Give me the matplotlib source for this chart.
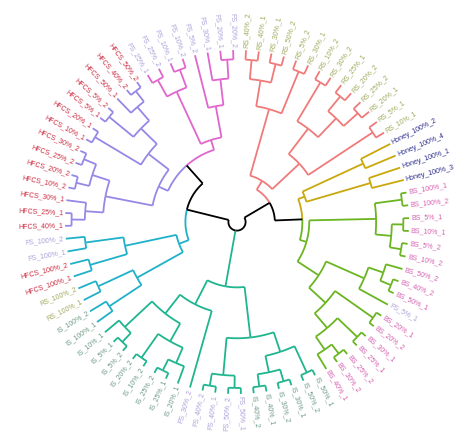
import numpy as np
import matplotlib
matplotlib.use("Agg")
import matplotlib.pyplot as plt

red_tree = [[[["RS_40%_2", "RS_40%_1"], ["RS_30%_1", "RS_50%_2"]], ["RS_5%_2", "RS_30%_1"]],
            [[["RS_10%_2", "RS_30%_2"], [["RS_25%_1", "RS_20%_2"], ["RS_25%_2", "RS_20%_1"]]], ["RS_5%_1", "RS_10%_1"]]]
gold_tree = [["Honey_100%_2", "Honey_100%_4"], ["Honey_100%_1", "Honey_100%_3"]]
green_tree = [[["BS_100%_1", "BS_100%_2"], [["BS_5%_1", "BS_10%_1"], ["BS_5%_2", "BS_10%_2"]]],
              [[["BS_50%_2", ["BS_40%_2", "BS_50%_1"]], "FS_5%_1"],
               [["BS_20%_1", "BS_20%_2"], [["BS_30%_1", "BS_25%_1"], [["BS_25%_2", "BS_30%_2"], "BS_40%_1"]]]]]
teal_tree = [[[["IS_50%_1", "IS_50%_2"], [["IS_30%_1", "IS_30%_2"], ["IS_40%_1", "IS_40%_2"]]],
              [["FS_50%_1", "FS_50%_2"], ["FS_40%_1", "FS_40%_2"]]],
             ["FS_30%_2", [[["IS_20%_1", ["IS_25%_1", "IS_25%_2"]], ["IS_10%_2", "IS_20%_2"]],
                           [["IS_5%_2", "IS_5%_1"], "IS_10%_1"]]]]
cyan_tree = [[["IS_100%_1", "IS_100%_2"], ["RS_100%_1", "RS_100%_2"]],
             [["HFCS_100%_1", "HFCS_100%_2"], ["FS_100%_1", "FS_100%_2"]]]
purple_tree = [[[["HFCS_40%_1", "HFCS_25%_1"], "HFCS_30%_1"], [["HFCS_10%_2", "HFCS_20%_2"], ["HFCS_25%_2", "HFCS_30%_2"]]],
               [["HFCS_10%_1", "HFCS_20%_1"], [["HFCS_5%_1", "HFCS_5%_2"], ["HFCS_50%_1", ["HFCS_40%_2", "HFCS_50%_2"]]]]]
magenta_tree = [[["FS_25%_1", "FS_25%_2"], ["FS_10%_1", "FS_10%_2"]], ["FS_5%_2", ["FS_30%_1", ["FS_20%_1", "FS_20%_2"]]]]

branch_colors = {"red": "#f07a7a", "gold": "#c9a80c", "green": "#6bb521", "teal": "#1fb58f",
                 "cyan": "#1fb1c9", "purple": "#9688e6", "magenta": "#e066cc"}
cluster_root_r = {"red": 0.28, "gold": 0.42, "green": 0.42, "teal": 0.38,
                  "cyan": 0.36, "purple": 0.5, "magenta": 0.5}
label_colors = {"RS": "#a0a85a", "Honey": "#2a2a8c", "BS": "#d660b0", "IS": "#6f9a86",
                "FS": "#ab9fd8", "HFCS": "#cc2a40"}

clusters = {"red": red_tree, "gold": gold_tree, "green": green_tree, "teal": teal_tree,
            "cyan": cyan_tree, "purple": purple_tree, "magenta": magenta_tree}
order = ["red", "gold", "green", "teal", "cyan", "purple", "magenta"]

def leaves(t):
    return [t] if isinstance(t, str) else sum((leaves(c) for c in t), [])

all_leaves = sum((leaves(clusters[c]) for c in order), [])
N = len(all_leaves)
step = 360.0 / N
leaf_angle = {i: 87 - i * step for i in range(N)}

fig = plt.figure(figsize=(4.74, 4.34), dpi=100)
ax = fig.add_axes([0, 0, 1, 1])
S = 172.0
CY = 222
ax.set_xlim(-237 / S, 237 / S)
ax.set_ylim(-(434 - CY) / S, CY / S)
ax.axis("off")

counter = [0]

def height(t):
    return 0 if isinstance(t, str) else 1 + max(height(c) for c in t)

def pol(r, a):
    return r * np.cos(np.radians(a)), r * np.sin(np.radians(a))

def arc(r, a0, a1, col):
    a = np.linspace(a0, a1, 30)
    x, y = pol(r, a)
    ax.plot(x, y, color=col, lw=1.3, solid_capstyle="butt")

def radial(r0, r1, a, col):
    x0, y0 = pol(r0, a); x1, y1 = pol(r1, a)
    ax.plot([x0, x1], [y0, y1], color=col, lw=1.3, solid_capstyle="butt")

def layout_cluster(t, r_root, h_root, col):
    if isinstance(t, str):
        i = counter[0]; counter[0] += 1
        a = leaf_angle[i]
        prefix = t.split("_")[0]
        tx, ty = pol(1.012, a)
        rot = a % 360
        kw = dict(va="center", rotation_mode="anchor", fontsize=5.0,
                  color=label_colors[prefix], family="Liberation Sans")
        if 90 < rot < 270:
            ax.text(tx, ty, t, rotation=rot - 180, ha="right", **kw)
        else:
            ax.text(tx, ty, t, rotation=rot, ha="left", **kw)
        return a, 1.0
    r = 1 - (1 - r_root) * (height(t) / h_root) ** 1.6
    kids = [layout_cluster(c, r_root, h_root, col) for c in t]
    a = np.mean([k[0] for k in kids])
    for ka, kr in kids:
        arc(r, a, ka, col)
        radial(r, kr, ka, col)
    return a, r

def do_cluster(name):
    a, r = layout_cluster(clusters[name], cluster_root_r[name], height(clusters[name]), branch_colors[name])
    return a, r, branch_colors[name]

def join(r, kids):
    a = np.mean([k[0] for k in kids])
    for ka, kr, kc in kids:
        arc(r, a, ka, kc)
        radial(r, kr, ka, kc)
    return a, r, "black"

res_red = do_cluster("red")
res_gold = do_cluster("gold")
res_green = do_cluster("green")
res_gg = join(0.38, [res_gold, res_green])
res_right = join(0.22, [res_red, res_gg])
res_teal = do_cluster("teal")
res_cyan = do_cluster("cyan")
res_purple = do_cluster("purple")
res_magenta = do_cluster("magenta")
res_pm = join(0.44, [res_purple, res_magenta])
res_left = join(0.3, [res_cyan, res_pm])
r0 = 0.05
a0 = res_teal[0]
for ka, kr, kc in [res_right, res_teal, res_left]:
    arc(r0, a0, ka, kc if kc != "black" else "black")
    radial(r0, kr, ka, kc)

fig.savefig("out.png", dpi=100)
